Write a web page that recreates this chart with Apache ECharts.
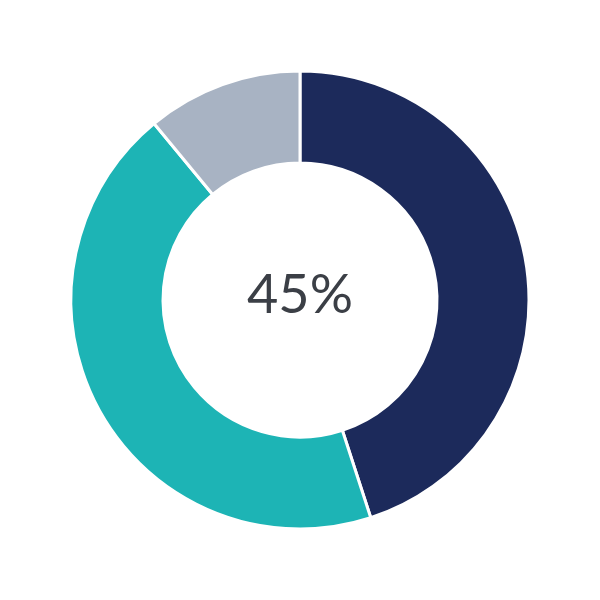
<!DOCTYPE html>
<html><head><meta charset="utf-8">
<script src="https://cdn.jsdelivr.net/npm/echarts@6/dist/echarts.min.js"></script>
<style>html,body{margin:0;padding:0;background:#fff}#c{width:600px;height:600px}</style>
</head><body><div id="c"></div>
<script>
const categories = ['A', 'B', 'C'];
const values = [45, 44, 11];
const colors = ['#1c2a5b', '#1db4b5', '#a8b3c3'];
const centerLabel = '45%';
const chart = echarts.init(document.getElementById('c'));
chart.setOption({
  animation: false,
  graphic: [{
    type: 'text', left: 'center', top: 269,
    style: { text: centerLabel, font: 'normal 54px Lato', fill: '#3b3f46' }
  }],
  series: [{
    type: 'pie', center: ['50%', '50%'], radius: [137, 229],
    startAngle: 90, clockwise: true,
    label: { show: false }, labelLine: { show: false },
    itemStyle: { borderColor: '#fff', borderWidth: 3 },
    emphasis: { disabled: true },
    data: categories.map((n, i) => ({ name: n, value: values[i], itemStyle: { color: colors[i] } }))
  }]
});
</script></body></html>
